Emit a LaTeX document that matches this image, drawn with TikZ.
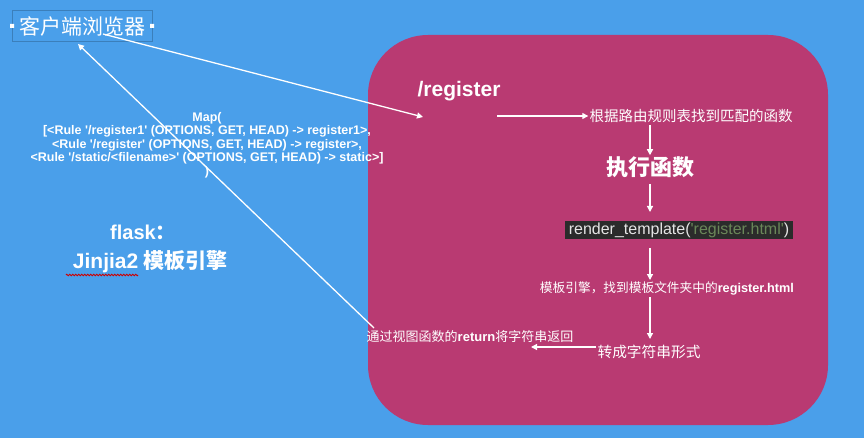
\documentclass[tikz,border=0pt]{standalone}
\usepackage{fontspec}
\setmainfont{Noto Sans CJK SC}
\newfontfamily\lat{Liberation Sans}
\usetikzlibrary{arrows.meta,decorations.pathmorphing}
\definecolor{bg}{HTML}{4A9FEA}
\definecolor{mag}{HTML}{B93A72}
\definecolor{codebg}{HTML}{2B2B2B}
\definecolor{codegr}{HTML}{6A8759}
\begin{document}
\begin{tikzpicture}[x=1pt,y=-1pt,
  arr/.style={draw=white,line width=1.3pt,-{Triangle[length=6pt,width=6pt]}},
  wt/.style={text=white,inner sep=1pt,align=center}]
\useasboundingbox (0,0) rectangle (864,438);
\fill[bg] (0,0) rectangle (864,438);
\fill[mag,rounded corners=60pt] (368,35) rectangle (828,425);
\node[wt,font=\fontsize{21}{23}\selectfont,draw=bg!80!black,line width=0.4pt,minimum width=140pt,minimum height=31pt] (client) at (82,26) {客户端浏览器};
\fill[white] (10,24) rectangle (14,28) (150,24) rectangle (154,28);
\node[wt,font=\lat\bfseries\fontsize{12.5}{13.5}\selectfont] (map) at (207,145) {Map(\\ {[}<Rule '/register1' (OPTIONS, GET, HEAD) -> register1>,\\ <Rule '/register' (OPTIONS, GET, HEAD) -> register>,\\ <Rule '/static/<filename>' (OPTIONS, GET, HEAD) -> static>{]}\\ )};
\node[wt,font=\lat\bfseries\fontsize{21}{23}\selectfont] (reg) at (459,91) {/register};
\coordinate (regin) at (423,117);
\draw[arr] (103,34) -- (regin);
\node[wt,font=\fontsize{14.5}{16}\selectfont] (rule) at (691,116) {根据路由规则表找到匹配的函数};
\coordinate (r0) at (497,116);
\draw[arr] (r0) -- (rule.west);
\node[wt,font=\bfseries\fontsize{22}{24}\selectfont] (exec) at (650,167) {执行函数};
\draw[arr] (650,125) -- (exec.north);
\node[fill=codebg,inner sep=1.5pt,minimum width=228pt,minimum height=18pt,font=\lat\fontsize{16}{17}\selectfont] (rt) at (679,230) {\textcolor{white!80!gray}{render\_template(}\textcolor{codegr}{'register.html'}\textcolor{white!80!gray}{)}};
\draw[arr] (650,184) -- (650,212);
\node[wt,font=\fontsize{12.7}{14}\selectfont] (eng) at (667,288) {模板引擎，找到模板文件夹中的{\lat\bfseries register.html}};
\draw[arr] (650,248) -- (650,280);
\node[wt,font=\fontsize{14.7}{16}\selectfont] (str) at (649,352) {转成字符串形式};
\draw[arr] (650,297) -- (650,339);
\coordinate (retend) at (531,347);
\draw[arr] (str.west |- retend) -- (retend);
\node[wt,font=\fontsize{13}{14}\selectfont] (ret) at (470,337) {通过视图函数的{\lat\bfseries return}将字符串返回};
\draw[arr] (374,328) -- (78,44);
\node[wt,font=\bfseries\fontsize{20}{22}\selectfont] (flask) at (143,232) {{\lat flask}：};
\node[wt,font=\bfseries\fontsize{21}{23}\selectfont] (jin) at (150,262) {{\lat Jinjia2} 模板引擎};
\draw[red!80!black,line width=0.8pt,decorate,decoration={zigzag,amplitude=0.8pt,segment length=3pt}] (66,275) -- (138,275);
\end{tikzpicture}
\end{document}
